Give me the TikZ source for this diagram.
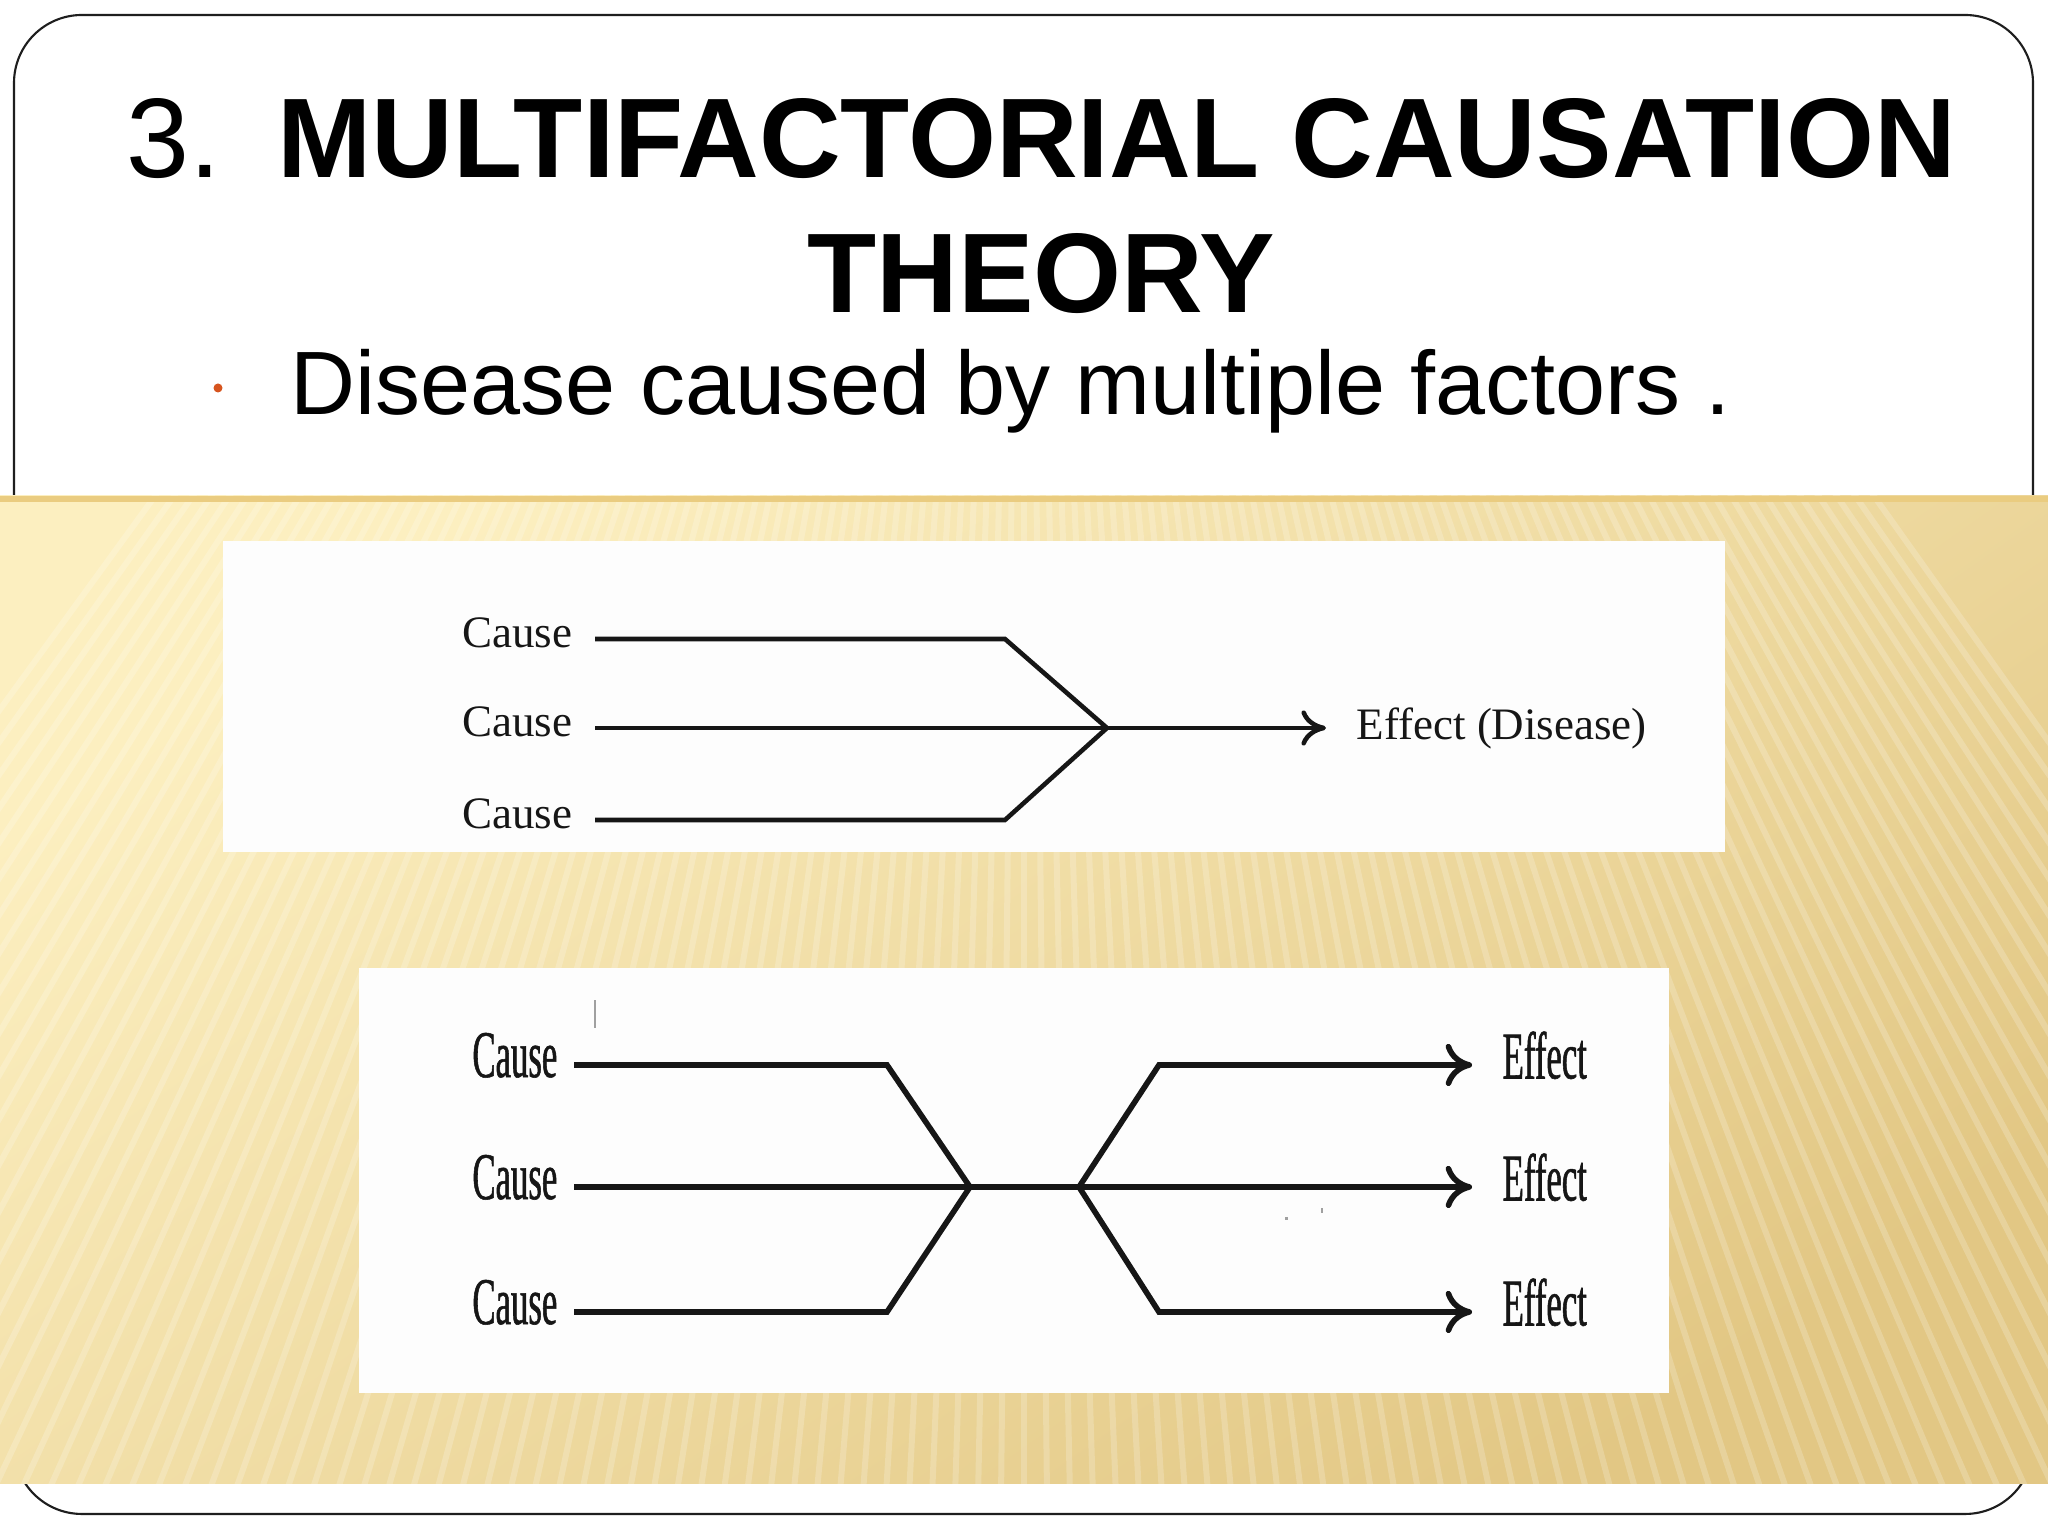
\documentclass[tikz,border=0pt]{standalone}
\usepackage{fontspec}
\usepackage{tikz}
\usetikzlibrary{arrows.meta}
\setmainfont{Liberation Sans}
\newfontfamily\diagfont{Liberation Serif}
\newfontfamily\narrowfont[FakeStretch=0.52, FakeBold=0.8]{Liberation Serif}
\definecolor{framegray}{RGB}{30, 30, 30}
\definecolor{bulletorange}{RGB}{214, 84, 30}
\definecolor{bandlight}{RGB}{252, 239, 192}
\definecolor{banddark}{RGB}{226, 199, 132}
\definecolor{bandedge}{RGB}{234, 204, 128}
\definecolor{paperwhite}{RGB}{253, 253, 253}
\definecolor{inkblack}{RGB}{22, 22, 22}
\definecolor{specklegray}{RGB}{160, 160, 160}

\begin{document}
\begin{tikzpicture}[
        x=1cm, y=1cm,
        panel/.style={rectangle, fill=paperwhite, draw=none, inner sep=0pt},
        causeone/.style={anchor=east, inner xsep=0.22cm, inner ysep=0pt, text depth=0.12cm, font=\diagfont\fontsize{12.8}{15}\selectfont, text=inkblack},
        effectone/.style={anchor=west, inner xsep=0.3cm, inner ysep=0pt, font=\diagfont\fontsize{12.8}{15}\selectfont, text=inkblack},
        causetwo/.style={anchor=east, inner xsep=0.16cm, inner ysep=0pt, text depth=0.2cm, font=\narrowfont\fontsize{19}{22}\selectfont, text=inkblack},
        effecttwo/.style={anchor=west, inner xsep=0.3cm, inner ysep=0pt, text depth=0.2cm, font=\narrowfont\fontsize{19}{22}\selectfont, text=inkblack},
        flowone/.style={draw=inkblack, line width=1.3pt, line join=miter},
        flowtwo/.style={draw=inkblack, line width=1.6pt, line join=miter},
        arrone/.style={-{Computer Modern Rightarrow[length=7pt, width=10pt]}},
        arrtwo/.style={-{Computer Modern Rightarrow[length=7.5pt, width=12pt]}},
        speck/.style={rectangle, fill=specklegray, inner sep=0pt, draw=none}
    ]
    \useasboundingbox (0,0) rectangle (20.48,15.36);
    \fill[white] (0,0) rectangle (20.48,15.36);

    % Slide frame
    \draw[framegray, line width=0.6pt, rounded corners=0.68cm] (0.14,0.22) rectangle (20.33,15.21);

    % Title and bullet
    \node[anchor=base, inner sep=0pt] (title1) at (10.41,13.58) {\fontsize{32.2}{36}\selectfont 3.\hspace*{0.5em}\textbf{MULTIFACTORIAL CAUSATION}};
    \node[anchor=base, inner sep=0pt] (title2) at (10.41,12.23) {\fontsize{32.2}{36}\selectfont\textbf{THEORY}};
    \node[circle, fill=bulletorange, inner sep=0pt, minimum size=0.09cm] (dot) at (2.18,11.48) {};
    \node[anchor=base west, inner sep=0pt] (bullet) at (2.90,11.21) {\fontsize{25.6}{30}\selectfont Disease caused by multiple factors .};

    % Striped band
    \begin{scope}
        \clip (0,0.52) rectangle (20.48,10.40);
        \shade[top color=bandlight, bottom color=banddark, shading angle=35] (0,0.52) rectangle (20.48,10.40);
        \foreach \a in {-126,-125.4,...,-54}
            \draw[white, opacity=0.2, line width=0.06cm] (10.24,22.36) -- ++(\a:27);
    \end{scope}
    \fill[bandedge] (0,10.34) rectangle (20.48,10.40);

    % Panels
    \node[panel, anchor=south west, minimum width=15.02cm, minimum height=3.11cm] (panel1) at (2.22,6.83) {};
    \node[panel, anchor=south west, minimum width=13.10cm, minimum height=4.25cm] (panel2) at (3.58,1.42) {};

    % One effect
    \node[causeone] (c1a) at (5.95,8.97) {Cause};
    \node[causeone] (c1b) at (5.95,8.08) {Cause};
    \node[causeone] (c1c) at (5.95,7.16) {Cause};
    \coordinate (k1a) at (10.05,8.97);
    \coordinate (k1c) at (10.05,7.16);
    \coordinate (j1) at (11.07,8.08);
    \node[effectone] (e1) at (13.26,8.08) {Effect (Disease)};
    \draw[flowone] (c1a) -- (k1a) -- (j1);
    \draw[flowone] (c1c) -- (k1c) -- (j1);
    \draw[flowone, arrone] (c1b) -- (e1);

    % Many effects
    \node[causetwo] (c2a) at (5.74,4.71) {Cause};
    \node[causetwo] (c2b) at (5.74,3.49) {Cause};
    \node[causetwo] (c2c) at (5.74,2.24) {Cause};
    \coordinate (k2a) at (8.87,4.71);
    \coordinate (k2c) at (8.87,2.24);
    \coordinate (j2a) at (9.70,3.49);
    \coordinate (j2b) at (10.79,3.49);
    \coordinate (k2d) at (11.59,4.71);
    \coordinate (k2f) at (11.59,2.24);
    \node[effecttwo] (e2a) at (14.72,4.71) {Effect};
    \node[effecttwo] (e2b) at (14.72,3.49) {Effect};
    \node[effecttwo] (e2c) at (14.72,2.24) {Effect};
    \draw[flowtwo] (c2a) -- (k2a) -- (j2a);
    \draw[flowtwo] (c2c) -- (k2c) -- (j2a);
    \draw[flowtwo, arrtwo] (c2b) -- (e2b);
    \draw[flowtwo, arrtwo] (j2b) -- (k2d) -- (e2a);
    \draw[flowtwo, arrtwo] (j2b) -- (k2f) -- (e2c);

    % Scan marks
    \node[speck, minimum width=0.018cm, minimum height=0.28cm] (tick) at (5.95,5.22) {};
    \node[speck, minimum width=0.03cm, minimum height=0.03cm] (spk1) at (12.86,3.17) {};
    \node[speck, minimum width=0.02cm, minimum height=0.05cm] (spk2) at (13.22,3.25) {};

\end{tikzpicture}
\end{document}
